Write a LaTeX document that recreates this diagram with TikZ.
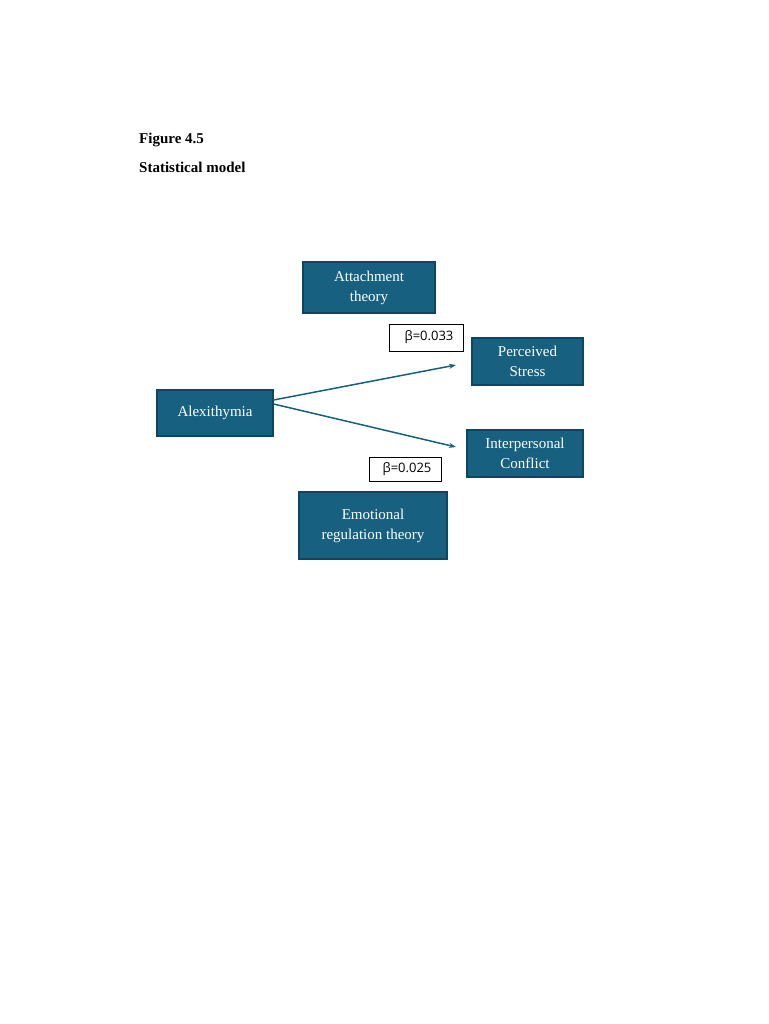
\documentclass[tikz,border=0pt]{standalone}
\usepackage{fontspec}
\setmainfont{Liberation Serif}
\newfontfamily\betafont{Open Sans}
\usetikzlibrary{arrows.meta}
\definecolor{boxfill}{HTML}{17607F}
\definecolor{boxedge}{HTML}{0D4660}
\begin{document}
\begin{tikzpicture}[x=1pt,y=-1pt,
  box/.style={draw=boxedge,line width=1.2pt,fill=boxfill,text=white,align=center,inner sep=0pt,font=\fontsize{15}{20}\selectfont},
  beta/.style={draw=black,line width=0.8pt,fill=white,inner sep=0pt,font=\betafont\fontsize{13}{15}\selectfont},
  arr/.style={draw=boxfill,line width=1.5pt,-{Stealth[length=7pt,width=5pt]}},
  title/.style={anchor=base west,inner sep=0pt,font=\bfseries\fontsize{15}{18}\selectfont}]
\useasboundingbox (0,0) rectangle (768,1024);
\node[title] (fig) at (139,144) {Figure 4.5};
\node[title] (sm) at (139,173) {Statistical model};
\node[box,minimum width=132pt,minimum height=51pt] (att) at (369,287.5) {Attachment\\theory};
\node[box,minimum width=111pt,minimum height=47pt] (ps) at (527.5,361.5) {Perceived\\Stress};
\node[box,minimum width=116pt,minimum height=46pt] (alex) at (215,413) {Alexithymia};
\node[box,minimum width=116pt,minimum height=47pt] (ic) at (525,453.5) {Interpersonal\\Conflict};
\node[box,minimum width=148pt,minimum height=67pt] (emo) at (373,525.5) {Emotional\\regulation theory};
\node[beta,minimum width=74pt,minimum height=27pt] (b1) at (426,337.5) {\hspace*{6pt}β=0.033};
\node[beta,minimum width=72pt,minimum height=24pt] (b2) at (405,469) {\hspace*{4pt}β=0.025};
\coordinate (e1) at (456,365);
\coordinate (e2) at (456,447);
\draw[arr] (alex.east |- 0,400) -- (e1);
\draw[arr] (alex.east |- 0,404) -- (e2);
\end{tikzpicture}
\end{document}
